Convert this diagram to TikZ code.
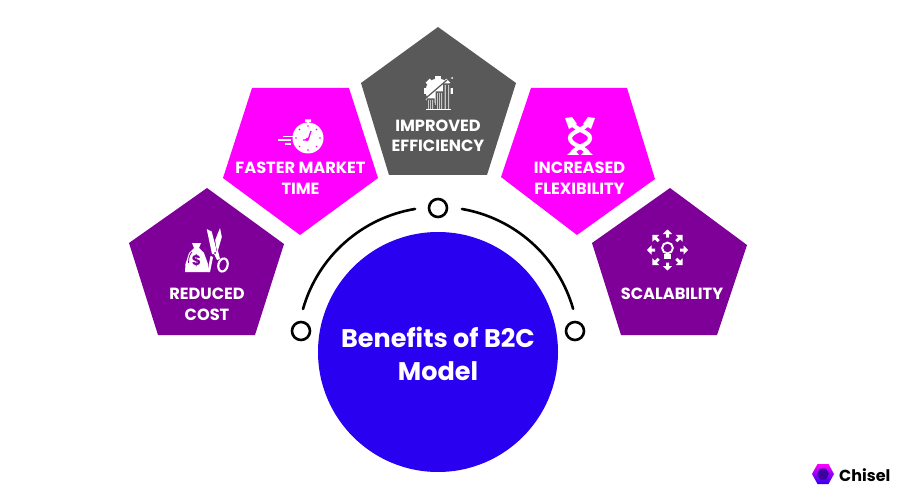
\documentclass[tikz,border=0pt]{standalone}
\usepackage{fontspec}
\setmainfont{Poppins}
\definecolor{purp}{HTML}{7F0099}
\definecolor{mag}{HTML}{FF00FF}
\definecolor{gry}{HTML}{595959}
\definecolor{blu}{HTML}{2A00F0}
\tikzset{
 lab/.style={text=white,font=\fontsize{16.2}{20.5}\selectfont\bfseries,align=center,inner sep=0pt},
 big/.style={text=white,font=\fontsize{25.5}{33}\selectfont\bfseries,align=center,inner sep=0pt},
 ring/.style={circle,draw=black,line width=2.6pt,fill=white,minimum size=18pt,inner sep=0pt},
 rim/.style={draw=black,line width=2.6pt,line cap=round},
 wl/.style={draw=white,line width=#1,line cap=butt},
 wl/.default=2pt
}
\begin{document}
\begin{tikzpicture}[x=1pt,y=-1pt]
\useasboundingbox (0,0) rectangle (900,500);
% pentagons
\fill[purp] (207,188)--(284,244)--(255,335)--(158,335)--(129,243)--cycle;
\fill[mag] (252,88)--(349,88)--(378,178)--(300,235)--(223,178)--cycle;
\fill[gry] (438,27)--(516,83)--(487,175)--(389,175)--(361,83)--cycle;
\fill[mag] (531,88)--(627,88)--(655,179)--(577,235)--(501,177)--cycle;
\fill[purp] (670,188)--(747,245)--(717,335)--(621,335)--(592,243)--cycle;
% centre
\node[circle,fill=blu,minimum size=240pt,inner sep=0pt] (hub) at (438,352) {};
\node[big] (hubtext) at (438,353.5) {Benefits of B2C\\Model};
\node[ring] (top) at (438,208) {};
\node[ring] (left) at (301,331) {};
\node[ring] (right) at (575,331) {};
\coordinate (la) at (303.0,309);
\coordinate (ra) at (462,209);
\draw[rim] (la) arc[start angle=195.9,end angle=260.6,radius=140.4];
\draw[rim] (ra) arc[start angle=279.8,end angle=344.1,radius=140.4];
% labels
\node[lab] (reduced) at (207,304.5) {REDUCED\\COST};
\node[lab] (faster) at (300.5,178) {FASTER MARKET\\TIME};
\node[lab] (improved) at (438,136) {IMPROVED\\EFFICIENCY};
\node[lab] (increased) at (579.5,178) {INCREASED\\FLEXIBILITY};
\node[lab] (scal) at (672,294) {SCALABILITY};
% stopwatch
\fill[white] (308,138) circle[radius=15.5];
\fill[white] (305,119.5) rectangle (311,122) (306.8,121) rectangle (309.2,124);
\draw[wl=1.6pt] (283,136.5)--(293,136.5) (278,140)--(291,140) (285,144)--(291,144);
\draw[mag,line width=1.3pt] (308,140)--(311,131) (308,140)--(303,140);
\fill[mag] (307,139.5) circle[radius=1.8];
\foreach \a in {0,45,...,315} \fill[mag] ({308+12*cos(\a)},{138+12*sin(\a)}) circle[radius=.9];
% money bag
\fill[white] (192,243)--(201,243)--(199,248)--(204,253)--(208,264)--(208.5,272)--(185,272)--(185.5,264)--(189,253)--(194,248)--cycle;
\node[text=purp,font=\fontsize{14}{14}\selectfont\bfseries,inner sep=0pt] (dollar) at (196.5,260.5) {\$};
\draw[purp,line width=.8pt] (188.5,263) .. controls (188.5,257) and (190,254) .. (192,252);
% scissors
\fill[white] (206.7,229)--(211.7,231.5)--(216,248)--(217,254)--(212,254)--cycle;
\fill[white] (220,228)--(221.8,237)--(217.5,252)--(216.2,247)--(215.2,240)--cycle;
\fill[white] (213,252)--(218,251)--(220,259)--(217,260)--cycle;
\fill[white] (210.5,256)--(213,257)--(210,272)--(207.5,272)--cycle;
\draw[white,line width=2.2pt,rotate around={-14:(223,265)}] (223,265) ellipse[x radius=4.6,y radius=6.6];
\fill[purp] (215,253) circle[radius=1];
% gear and chart
\fill[white] (438,91) circle[radius=12.5];
\foreach \a in {0,45,...,315} \fill[white,rotate around={\a:(438,91)}] (435,76.5) rectangle (441,83);
\fill[gry] (426.5,98.5) rectangle (434.5,111) (435.5,91.5) rectangle (443,111) (443,83.5) rectangle (450.5,111);
\draw[gry,line width=1.2pt] (426,98)--(447,80);
\fill[white] (452,78) circle[radius=1];
\fill[gray!45!white] (428,100) rectangle (433,110) (437,93) rectangle (442,110) (444.5,85) rectangle (449,110);
\draw[gry,line width=.5pt] (429.7,100)--(429.7,110) (431.4,100)--(431.4,110) (438.7,93)--(438.7,110) (440.4,93)--(440.4,110) (446,85)--(446,110) (447.5,85)--(447.5,110);
\fill[white] (426,109.5) rectangle (451,110.5);
% dna
\draw[white,line width=4.2pt] (571,123) .. controls (578,131) and (590,132) .. (590,138) .. controls (590,145) and (577,146) .. (572,153);
\draw[white,line width=4.2pt] (589,123) .. controls (582,131) and (570,132) .. (570,138) .. controls (570,145) and (583,146) .. (588,153);
\fill[white] (565,118)--(572,117)--(577,124)--(569,129)--cycle;
\fill[white] (595,118)--(588,117)--(583,124)--(591,129)--cycle;
\fill[white] (567,155)--(574,149)--(579,155)--cycle (593,155)--(586,149)--(581,155)--cycle;
% bulb with arrows
\draw[white,line width=1.9pt] (667.5,248) circle[radius=5.4];
\fill[white] (664,254) rectangle (671,258.5);
\begin{scope}[shift={(667.5,250)}]
\foreach \a in {0,90,180,270}{
 \fill[white,rotate=\a] (-1.5,-12.5)--(1.5,-12.5)--(1.5,-16)--(4.6,-16)--(0,-20.5)--(-4.6,-16)--(-1.5,-16)--cycle;}
\foreach \a in {45,135,225,315}{
 \fill[white,rotate=\a] (-1.5,-12.5)--(1.5,-12.5)--(1.5,-16.5)--(4.8,-16.5)--(0,-21.5)--(-4.8,-16.5)--(-1.5,-16.5)--cycle;}
\end{scope}
% logo
\shade[top color=mag,bottom color=blu] (812,474)--(817.5,464)--(828.5,464)--(834,474)--(828.5,484)--(817.5,484)--cycle;
\fill[blu!55!purp!80!black] (817,474)--(820,468.5)--(826,468.5)--(829,474)--(826,479.5)--(820,479.5)--cycle;
\node[anchor=west,font=\fontsize{16}{16}\selectfont\bfseries,inner sep=0pt] (chisel) at (839,475) {Chisel};
\end{tikzpicture}
\end{document}
